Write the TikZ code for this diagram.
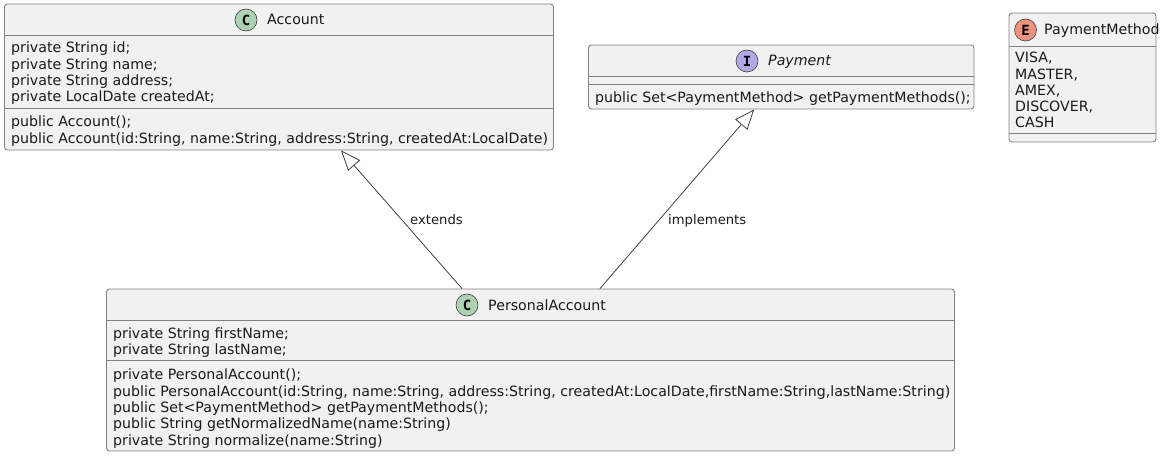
\documentclass[tikz,border=0pt]{standalone}
\usepackage{fontspec}
\setmainfont{DejaVu Sans}
\newfontfamily\badgefont{DejaVu Sans Mono}
\usetikzlibrary{arrows.meta}
\definecolor{boxfill}{HTML}{F1F1F1}
\definecolor{boxline}{HTML}{808080}
\definecolor{ink}{HTML}{1A1A1A}
\definecolor{linkline}{HTML}{404040}
\definecolor{cbadge}{HTML}{ADD1B2}
\definecolor{ibadge}{HTML}{B4A7E5}
\definecolor{ebadge}{HTML}{EB937F}
\tikzset{
  umlbox/.style={draw=boxline,fill=boxfill,line width=0.9pt,rounded corners=3pt,inner sep=0pt,minimum width=#1},
  sepline/.style={draw=boxline,line width=0.9pt},
  badge/.style={circle,draw=linkline,line width=0.6pt,minimum size=22pt,inner sep=0pt,fill=#1,text=black,font=\badgefont\bfseries\fontsize{14}{14}\selectfont},
  title/.style={inner sep=0pt,anchor=base west,text=ink,font=\fontsize{14.2}{16.3}\selectfont},
  members/.style={inner sep=0pt,anchor=north west,align=left,text=ink,font=\fontsize{14.17}{16.3}\selectfont},
  lbl/.style={inner sep=0pt,anchor=base west,text=ink,font=\fontsize{13.2}{16}\selectfont},
  inherit/.style={draw=linkline,line width=0.8pt,-{Triangle[open,length=20pt,width=16pt,fill=white]}}
}
\begin{document}
\begin{tikzpicture}[x=1pt,y=1pt]
\path[use as bounding box] (0,0) rectangle (1161,-457);
% Account
\node[umlbox=549pt,minimum height=146pt] (account) at (279,-77) {};
\draw[sepline] ([yshift=-32pt]account.north west) -- ([yshift=-32pt]account.north east);
\draw[sepline] ([yshift=-105pt]account.north west) -- ([yshift=-105pt]account.north east);
\node[badge=cbadge] (accountbadge) at (246,-20) {C};
\node[title] (accounttitle) at (267,-25) {Account};
\node[members] (accountfields) at (11,-42) {private String id;\\private String name;\\private String address;\\private LocalDate createdAt;};
\node[members] (accountmethods) at (11,-116) {public Account();\\public Account(id:String, name:String, address:String, createdAt:LocalDate)};
% Payment
\node[umlbox=385.5pt,minimum height=64pt] (payment) at (781.25,-77) {};
\draw[sepline] ([yshift=-31.5pt]payment.north west) -- ([yshift=-31.5pt]payment.north east);
\draw[sepline] ([yshift=-40pt]payment.north west) -- ([yshift=-40pt]payment.north east);
\node[badge=ibadge] (paymentbadge) at (747,-61) {I};
\node[title,font=\itshape\fontsize{14.2}{16.3}\selectfont] (paymenttitle) at (768,-66) {Payment};
\node[members] (paymentmethods) at (595,-92) {public Set<PaymentMethod> getPaymentMethods();};
% PaymentMethod
\node[umlbox=147pt,minimum height=129pt] (method) at (1082.5,-77.5) {};
\draw[sepline] ([yshift=-34pt]method.north west) -- ([yshift=-34pt]method.north east);
\draw[sepline] ([yshift=-121pt]method.north west) -- ([yshift=-121pt]method.north east);
\node[badge=ebadge] (methodbadge) at (1025.5,-30) {E};
\node[title] (methodtitle) at (1044,-35) {PaymentMethod};
\node[members] (methodvalues) at (1015,-52) {VISA,\\MASTER,\\AMEX,\\DISCOVER,\\CASH};
% PersonalAccount
\node[umlbox=848pt,minimum height=162pt] (personal) at (530.5,-370) {};
\draw[sepline] ([yshift=-32pt]personal.north west) -- ([yshift=-32pt]personal.north east);
\draw[sepline] ([yshift=-72pt]personal.north west) -- ([yshift=-72pt]personal.north east);
\node[badge=cbadge] (personalbadge) at (467,-305) {C};
\node[title] (personaltitle) at (488,-310) {PersonalAccount};
\node[members] (personalfields) at (113,-327.5) {private String firstName;\\private String lastName;};
\node[members] (personalmethods) at (113,-369) {private PersonalAccount();\\public PersonalAccount(id:String, name:String, address:String, createdAt:LocalDate,firstName:String,lastName:String)\\public Set<PaymentMethod> getPaymentMethods();\\public String getNormalizedName(name:String)\\private String normalize(name:String)};
% connectors
\draw[inherit] ([xshift=-68.5pt]personal.north) -- ([xshift=62pt]account.south);
\draw[inherit] ([xshift=69.5pt]personal.north) -- ([xshift=-27pt]payment.south);
\node[lbl] (extendslabel) at (410,-224) {extends};
\node[lbl] (implementslabel) at (668,-224) {implements};
\end{tikzpicture}
\end{document}
